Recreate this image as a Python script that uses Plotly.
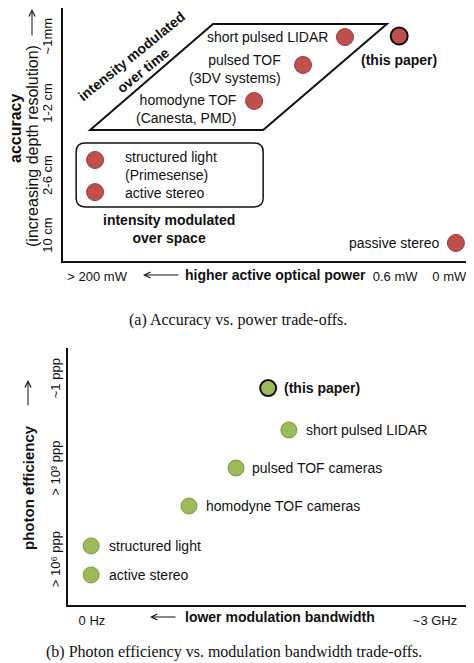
import plotly.graph_objects as go

# the page body has an 8px margin, so the figure fills what is left of the window
PAGE_PAD = 8
W, H = 474 - PAGE_PAD, 663 - PAGE_PAD
SANS = "Liberation Sans, Arial, sans-serif"
SERIF = "Liberation Serif, Times New Roman, serif"

# (a) accuracy vs. power -- schematic 0-100 scales
a_names = ["short pulsed LIDAR", "pulsed TOF<br>(3DV systems)", "homodyne TOF<br>(Canesta, PMD)",
           "structured light<br>(Primesense)", "active stereo", "passive stereo", "(this paper)"]
a_power = [68.6, 58.4, 46.5, 7.8, 7.8, 95.6, 81.8]
a_accuracy = [85.8, 75.1, 61.3, 38.7, 26.4, 6.9, 86.2]
a_xtickvals = [8.3, 80.8, 94.0]
a_xticktext = ["> 200 mW", "0.6 mW", "0 mW"]
a_ytickvals = [9.2, 32.2, 59.8, 85.4]
a_yticktext = ["10 cm", "2-6 cm", "1-2 cm", "~1mm"]

# (b) photon efficiency vs. modulation bandwidth
b_names = ["(this paper)", "short pulsed LIDAR", "pulsed TOF cameras", "homodyne TOF cameras",
           "structured light", "active stereo"]
b_bandwidth = [49.3, 54.4, 41.4, 29.8, 5.7, 5.7]
b_efficiency = [84.4, 68.1, 53.3, 38.5, 23.0, 11.7]
b_xtickvals = [5.9, 90.4]
b_xticktext = ["0 Hz", "~3 GHz"]
b_ytickvals = [17.1, 52.5, 87.5]
b_yticktext = ["> 10⁶ ppp", "> 10³ ppp", "~1 ppp"]

RED, RED_EDGE = "#c0504d", "#9a3b39"
GREEN, GREEN_EDGE = "#9bbb59", "#7a9a3e"


def paper(px, py):
    """window pixel -> paper coords"""
    return (px - PAGE_PAD) / W, 1 - (py - PAGE_PAD) / H


fig = go.Figure()

# points, last one of panel (a) / first of panel (b) is "this paper" with a dark rim
fig.add_trace(go.Scatter(
    x=a_power, y=a_accuracy, mode="markers", xaxis="x", yaxis="y", hoverinfo="skip",
    marker=dict(size=17, color=RED,
                line=dict(color=[RED_EDGE] * 6 + ["#111111"], width=[1] * 6 + [2])),
))
fig.add_trace(go.Scatter(
    x=b_bandwidth, y=b_efficiency, mode="markers", xaxis="x2", yaxis="y2", hoverinfo="skip",
    marker=dict(size=16, color=GREEN,
                line=dict(color=["#111111"] + [GREEN_EDGE] * 5, width=[2] + [1] * 5)),
))

annotations = []

# labels next to the points (anchor, xshift, yshift)
a_label_pos = [
    ("right", -15, 0), ("right", -20, -4), ("right", -16, -8),
    ("left", 28, -6), ("left", 28, -1), ("right", -15, 0), ("center", 0, -24),
]
for name, xv, yv, (anc, dx, dy) in zip(a_names, a_power, a_accuracy, a_label_pos):
    bold = name.startswith("(this")
    annotations.append(dict(
        x=xv, y=yv, xref="x", yref="y", text=f"<b>{name}</b>" if bold else name,
        showarrow=False, xanchor=anc, yanchor="middle", align=anc,
        xshift=dx, yshift=dy, font=dict(family=SANS, size=14, color="#111"),
    ))

b_label_shift = [14, 15, 14, 15, 16, 16]
for name, xv, yv, dx in zip(b_names, b_bandwidth, b_efficiency, b_label_shift):
    bold = name.startswith("(this")
    annotations.append(dict(
        x=xv, y=yv, xref="x2", yref="y2", text=f"<b>{name}</b>" if bold else name,
        showarrow=False, xanchor="left", yanchor="middle", xshift=dx,
        font=dict(family=SANS, size=14, color="#111"),
    ))

# group labels
annotations.append(dict(
    x=18.1, y=75.9, xref="x", yref="y", text="<b>intensity modulated<br>over time</b>",
    showarrow=False, textangle=-39, xanchor="center", yanchor="middle",
    font=dict(family=SANS, size=14, color="#111"),
))
annotations.append(dict(
    x=25.8, y=12.4, xref="x", yref="y", text="<b>intensity modulated<br>over space</b>",
    showarrow=False, xanchor="center", yanchor="middle",
    font=dict(family=SANS, size=14, color="#111"),
))

# axis titles
for text, (px, py), size, bold in [
    ("accuracy", (15, 129), 16, True),
    ("(increasing depth resolution)", (32, 146), 16, False),
    ("photon efficiency", (28, 488), 15, True),
]:
    xp, yp = paper(px, py)
    annotations.append(dict(
        x=xp, y=yp, xref="paper", yref="paper", text=f"<b>{text}</b>" if bold else text,
        showarrow=False, textangle=-90, xanchor="center", yanchor="middle",
        font=dict(family=SANS, size=size, color="#111"),
    ))

for text, (px, py) in [
    ("higher active optical power", (183, 275)),
    ("lower modulation bandwidth", (183, 617)),
]:
    xp, yp = paper(px, py)
    annotations.append(dict(
        x=xp, y=yp, xref="paper", yref="paper", text=f"<b>{text}</b>", showarrow=False,
        xanchor="left", yanchor="middle", font=dict(family=SANS, size=14, color="#111"),
    ))

# arrows (head position, tail offset in px)
for (px, py), ax, ay in [((143, 275), 37, 0), ((150, 617), 27, 0),
                         ((32, 9), 0, 28), ((28, 380), 0, 27)]:
    xp, yp = paper(px, py)
    annotations.append(dict(
        x=xp, y=yp, xref="paper", yref="paper", text="", showarrow=True,
        ax=ax, ay=ay, arrowhead=5, arrowsize=1.2, arrowwidth=1, arrowcolor="#111", standoff=0,
    ))

# captions
for text, (px, py) in [
    ("(a) Accuracy vs. power trade-offs.", (238, 320)),
    ("(b) Photon efficiency vs. modulation bandwidth trade-offs.", (234, 652)),
]:
    xp, yp = paper(px, py)
    annotations.append(dict(
        x=xp, y=yp, xref="paper", yref="paper", text=text, showarrow=False,
        xanchor="center", yanchor="middle", font=dict(family=SERIF, size=16, color="#111"),
    ))

# outlines: parallelogram (over time) and rounded box (over space)
rx, ry = 2.2, 3.4
x0, x1, y0, y1 = 3.2, 48.7, 20.7, 45.2
rounded = (f"M {x0 + rx},{y1} L {x1 - rx},{y1} Q {x1},{y1} {x1},{y1 - ry} "
           f"L {x1},{y0 + ry} Q {x1},{y0} {x1 - rx},{y0} L {x0 + rx},{y0} "
           f"Q {x0},{y0} {x0},{y0 + ry} L {x0},{y1 - ry} Q {x0},{y1} {x0 + rx},{y1} Z")
shapes = [
    dict(type="path", xref="x", yref="y", path="M 6.6,50.2 L 36.5,90.8 L 78.8,90.8 L 48.7,50.2 Z",
         line=dict(color="#111", width=2), layer="below"),
    dict(type="path", xref="x", yref="y", path=rounded,
         line=dict(color="#111", width=1.5), layer="below"),
]

axis_common = dict(showgrid=False, zeroline=False, showline=True,
                   linecolor="#111111", linewidth=2, fixedrange=True,
                   ticks="outside", tickcolor="rgba(0,0,0,0)",
                   automargin=False, tickfont=dict(family=SANS, size=13, color="#111"))

ya_top = paper(0, 261)[1]
yb_bot, yb_top = paper(0, 605)[1], paper(0, 348)[1]

fig.update_layout(
    template="none",
    width=W, height=H, margin=dict(l=0, r=0, t=0, b=0, pad=0),
    paper_bgcolor="white", plot_bgcolor="white", showlegend=False,
    xaxis=dict(axis_common, domain=[paper(63, 0)[0], 1], anchor="y", range=[0, 100],
               tickvals=a_xtickvals, ticktext=a_xticktext, ticklen=2),
    yaxis=dict(axis_common, domain=[ya_top, 1], anchor="x", range=[0, 100 * 253 / 261],
               tickvals=a_ytickvals, ticktext=a_yticktext, tickangle=-90, ticklen=4),
    xaxis2=dict(axis_common, domain=[paper(68, 0)[0], 1], anchor="y2", range=[0, 100],
                tickvals=b_xtickvals, ticktext=b_xticktext, ticklen=2),
    yaxis2=dict(axis_common, domain=[yb_bot, yb_top], anchor="x2", range=[0, 100],
                tickvals=b_ytickvals, ticktext=b_yticktext, tickangle=-90, ticklen=1),
    annotations=annotations,
    shapes=shapes,
)

fig.write_html("out.html")
